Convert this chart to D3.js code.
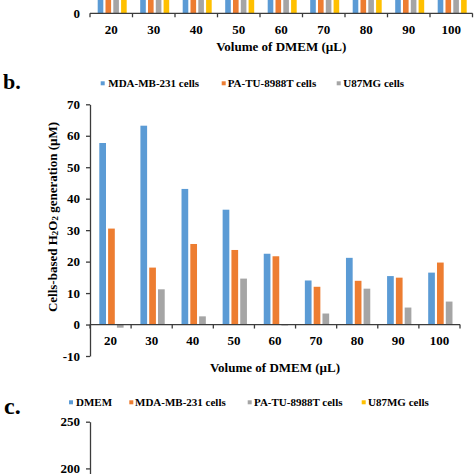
<!DOCTYPE html>
<html><head><meta charset="utf-8">
<script src="https://cdn.jsdelivr.net/npm/d3@7"></script>
<style>
html,body{margin:0;padding:0;background:#fff;}
svg{display:block;}
text{font-family:"Liberation Serif","Times New Roman",serif;font-weight:bold;fill:#000;}
</style></head>
<body>
<script>
// ---------- DATA ----------
const volumes = ["20","30","40","50","60","70","80","90","100"];

// Panel a (only the base of the bars is visible; values estimated, above visible range)
const aSeries = ["DMEM","MDA-MB-231 cells","PA-TU-8988T cells","U87MG cells"];
const aDMEM  = [120,130,125,128,122,126,124,127,129];
const aMDA   = [110,118,112,115,111,113,116,114,117];
const aPATU  = [105,108,106,109,104,107,103,108,106];
const aU87   = [100,102,101,103,99,104,100,102,101];

// Panel b: Cells-based H2O2 generation (µM)
const bSeries = ["MDA-MB-231 cells","PA-TU-8988T cells","U87MG cells"];
const bMDA  = [57.7,63.2,43.1,36.5,22.5,14.0,21.2,15.4,16.5];
const bPATU = [30.5,18.1,25.6,23.7,21.7,12.0,13.9,14.9,19.7];
const bU87  = [-1.0,11.2,2.6,14.6,-0.3,3.5,11.4,5.4,7.3];
const bTicks = [-10,0,10,20,30,40,50,60,70];

// Panel c (only the top of the axis is visible)
const cSeries = ["DMEM","MDA-MB-231 cells","PA-TU-8988T cells","U87MG cells"];
const cTicks = [200,250];

const colors = ["#5B9BD5","#ED7D31","#A5A5A5","#FFC000"];
const axisColor = "#3c3c3c";

// ---------- SVG ----------
const W = 474, H = 474;
const svg = d3.select("body").append("svg").attr("width",W).attr("height",H);
svg.append("rect").attr("width",W).attr("height",H).attr("fill","#fff");

function catAxis(g, x, y0, labelY, fontSize){
  const [r0, r1] = x.range();
  g.append("line").attr("x1",r0).attr("x2",r1).attr("y1",y0).attr("y2",y0)
    .attr("stroke",axisColor).attr("stroke-width",1.3);
  const bounds = x.domain().map(d => x(d)).concat([r1]);
  g.selectAll(".bt").data(bounds).join("line")
    .attr("x1",d=>d).attr("x2",d=>d).attr("y1",y0).attr("y2",y0+4)
    .attr("stroke",axisColor).attr("stroke-width",1.3);
  g.selectAll(".cl").data(x.domain()).join("text")
    .attr("x",d=>x(d)+x.bandwidth()/2).attr("y",labelY)
    .attr("text-anchor","middle").attr("dominant-baseline","central")
    .style("font-size",fontSize+"px").text(d=>d);
}

function yAxisDraw(g, y, ticks, x0){
  const ax = d3.axisLeft(y).tickValues(ticks).tickFormat(d=>String(d))
    .tickSize(4).tickPadding(6).tickSizeOuter(0);
  const ga = g.append("g").attr("transform",`translate(${x0},0)`).call(ax);
  ga.select(".domain").attr("stroke",axisColor).attr("stroke-width",1.3);
  ga.selectAll(".tick line").attr("stroke",axisColor).attr("stroke-width",1.3);
  ga.selectAll(".tick text").attr("fill","#000")
    .style("font-family","'Liberation Serif','Times New Roman',serif")
    .style("font-weight","bold").style("font-size","13px");
  return ga;
}

function legend(g, items, xs, y){
  items.forEach((name,i)=>{
    g.append("rect").attr("x",xs[i][0]).attr("y",y-2).attr("width",4).attr("height",4)
      .attr("fill",colors[i]);
    g.append("text").attr("x",xs[i][1]).attr("y",y).attr("dominant-baseline","central")
      .style("font-size","11px").text(name);
  });
}

// ---------- PANEL A (bottom portion only) ----------
{
  const g = svg.append("g");
  const x = d3.scaleBand().domain(volumes).range([90,472.5]);
  const xs = d3.scaleBand().domain(aSeries).range([7.7,36.7]).paddingInner(0.28);
  const y = d3.scaleLinear().domain([0,250]).range([13.3,13.3-233.5]);
  const data = [aDMEM,aMDA,aPATU,aU87];
  data.forEach((vals,si)=>{
    g.selectAll(null).data(vals).join("rect")
      .attr("x",(d,i)=>x(volumes[i])+xs(aSeries[si]))
      .attr("width",xs.bandwidth())
      .attr("y",d=>Math.min(y(d),y(0)))
      .attr("height",d=>Math.abs(y(d)-y(0)))
      .attr("fill",colors[si]);
  });
  catAxis(g, x, y(0), 29.5, 13);
  g.append("text").attr("x",80).attr("y",y(0)).attr("text-anchor","end")
    .attr("dominant-baseline","central").style("font-size","13px").text("0");
  g.append("text").attr("x",(90+472.5)/2).attr("y",46.5).attr("text-anchor","middle")
    .attr("dominant-baseline","central").style("font-size","13px").text("Volume of DMEM (µL)");
}

// ---------- PANEL B ----------
{
  const g = svg.append("g");
  g.append("text").attr("x",3).attr("y",81).attr("dominant-baseline","central")
    .style("font-size","22px").text("b.");
  legend(g, bSeries, [[100.7,108.3],[221.7,227.7],[336.7,343.3]], 83.3);
  const x = d3.scaleBand().domain(volumes).range([90,460]);
  const xs = d3.scaleBand().domain(bSeries).range([9.3,33.6]).paddingInner(0.239);
  const y = d3.scaleLinear().domain([-10,70]).range([356,104.3]);
  const data = [bMDA,bPATU,bU87];
  data.forEach((vals,si)=>{
    g.selectAll(null).data(vals).join("rect")
      .attr("x",(d,i)=>x(volumes[i])+xs(bSeries[si]))
      .attr("width",xs.bandwidth())
      .attr("y",d=>Math.min(y(d),y(0)))
      .attr("height",d=>Math.abs(y(d)-y(0)))
      .attr("fill",colors[si]);
  });
  yAxisDraw(g, y, bTicks, 90);
  catAxis(g, x, y(0), 340, 13);
  g.append("text").attr("x",(90+460)/2).attr("y",367).attr("text-anchor","middle")
    .attr("dominant-baseline","central").style("font-size","13px").text("Volume of DMEM (µL)");
  const yl = g.append("text").attr("transform",`translate(52,217) rotate(-90)`)
    .attr("text-anchor","middle").attr("dominant-baseline","central").style("font-size","13px");
  yl.append("tspan").text("Cells-based H");
  yl.append("tspan").attr("dy",3).style("font-size","9px").text("2");
  yl.append("tspan").attr("dy",-3).text("O");
  yl.append("tspan").attr("dy",3).style("font-size","9px").text("2");
  yl.append("tspan").attr("dy",-3).text(" generation (µM)");
}

// ---------- PANEL C (top portion only) ----------
{
  const g = svg.append("g");
  g.append("text").attr("x",4).attr("y",406).attr("dominant-baseline","central")
    .style("font-size","24px").text("c.");
  legend(g, cSeries, [[69,76],[129.3,135],[247.7,254],[361.7,368]], 402.3);
  const y = d3.scaleLinear().domain([0,250]).range([421.7+233.5,421.7]);
  yAxisDraw(g, y, cTicks, 90);
}
</script>
</body></html>
